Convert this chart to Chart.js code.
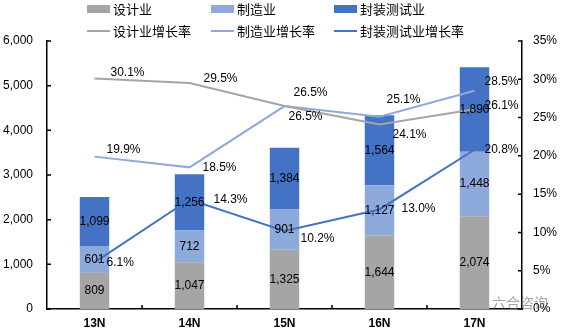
<!DOCTYPE html>
<html>
<head>
<meta charset="utf-8">
<script src="https://cdn.jsdelivr.net/npm/chart.js@4.4.1/dist/chart.umd.min.js"></script>
<style>
  html, body { margin: 0; padding: 0; background: #fff; }
  #wrap { position: relative; width: 561px; height: 332px; }
  #c { position: absolute; left: 0; top: 0; }
  .lg { position: absolute; font: 13px "Noto Sans CJK SC", sans-serif; color: #000; line-height: 16px; }
  .lg i { position: absolute; left: -26px; width: 23px; }
  .wm { position: absolute; left: 492px; top: 292px; font: 14px "Noto Sans CJK SC", sans-serif; color: rgba(90,90,90,0.55); }
</style>
</head>
<body>
<div id="wrap">
  <canvas id="c" width="561" height="332"></canvas>
  <div class="lg" style="left:113px;top:1px"><i style="top:4px;height:8px;background:#A5A5A5"></i>设计业</div>
  <div class="lg" style="left:237px;top:1px"><i style="top:4px;height:8px;background:#8EA9DB"></i>制造业</div>
  <div class="lg" style="left:360px;top:1px"><i style="top:4px;height:8px;background:#4472C4"></i>封装测试业</div>
  <div class="lg" style="left:113px;top:23px"><i style="top:7px;height:2px;background:#A5A5A5"></i>设计业增长率</div>
  <div class="lg" style="left:237px;top:23px"><i style="top:7px;height:2px;background:#8EA9DB"></i>制造业增长率</div>
  <div class="lg" style="left:360px;top:23px"><i style="top:7px;height:2px;background:#4472C4"></i>封装测试业增长率</div>
  <div class="wm">六合咨询</div>
</div>
<script>
// 数据
const years = ['13N', '14N', '15N', '16N', '17N'];
const designRev = [809, 1047, 1325, 1644, 2074];
const fabRev = [601, 712, 901, 1127, 1448];
const packRev = [1099, 1256, 1384, 1564, 1890];
const designGrowth = [30.1, 29.5, 26.5, 24.1, 26.1];
const fabGrowth = [19.9, 18.5, 26.5, 25.1, 28.5];
const packGrowth = [6.1, 14.3, 10.2, 13.0, 20.8];

// 折线标签相对数据点的偏移 (dx, dy)
const labelShift = {
  3: [[16, -6], [14, -4], [4, 11], [13, 10], [10, -3]],
  4: [[12, -7], [13, 0], [9, -13], [7, -17], [10, -9]],
  5: [[12, 0], [24, 0], [16, 8], [22, -1], [10, 0]]
};

const fmt = v => v.toLocaleString('en-US');

const labelPlugin = {
  id: 'labels',
  afterDatasetsDraw(chart) {
    const ctx = chart.ctx;
    ctx.save();
    ctx.fillStyle = '#000';
    ctx.font = '12px "Liberation Sans", Arial, sans-serif';
    ctx.textBaseline = 'middle';
    chart.data.datasets.forEach((ds, di) => {
      const meta = chart.getDatasetMeta(di);
      meta.data.forEach((el, i) => {
        if (ds.type === 'bar') {
          ctx.textAlign = 'center';
          ctx.fillText(fmt(ds.data[i]), el.x, (el.y + el.base) / 2);
        } else {
          const s = labelShift[di][i];
          ctx.textAlign = 'left';
          ctx.fillText(ds.data[i].toFixed(1) + '%', el.x + s[0], el.y + s[1]);
        }
      });
    });
    ctx.restore();
  }
};

// 坐标轴内侧刻度线
const tickPlugin = {
  id: 'innerTicks',
  afterDraw(chart) {
    const ctx = chart.ctx;
    const a = chart.chartArea;
    const y = chart.scales.y, y1 = chart.scales.y1, x = chart.scales.x;
    ctx.save();
    ctx.strokeStyle = '#000';
    ctx.lineWidth = 1.5;
    ctx.beginPath();
    y.ticks.forEach(t => {
      const p = y.getPixelForValue(t.value);
      ctx.moveTo(a.left, p); ctx.lineTo(a.left + 4, p);
    });
    y1.ticks.forEach(t => {
      const p = y1.getPixelForValue(t.value);
      ctx.moveTo(a.right, p); ctx.lineTo(a.right - 4, p);
    });
    for (let i = 1; i < years.length; i++) {
      const p = (x.getPixelForValue(i - 1) + x.getPixelForValue(i)) / 2;
      ctx.moveTo(p, a.bottom); ctx.lineTo(p, a.bottom - 4);
    }
    ctx.stroke();
    ctx.restore();
  }
};

const tickFont = { family: '"Liberation Sans", Arial, sans-serif', size: 12 };
const noGrid = { display: false, drawTicks: false, tickLength: 0 };

new Chart(document.getElementById('c'), {
  data: {
    labels: years,
    datasets: [
      { type: 'bar', label: '设计业', data: designRev, backgroundColor: '#A5A5A5', stack: 's', order: 2, yAxisID: 'y' },
      { type: 'bar', label: '制造业', data: fabRev, backgroundColor: '#8EA9DB', stack: 's', order: 2, yAxisID: 'y' },
      { type: 'bar', label: '封装测试业', data: packRev, backgroundColor: '#4472C4', stack: 's', order: 2, yAxisID: 'y' },
      { type: 'line', label: '设计业增长率', data: designGrowth, borderColor: '#A5A5A5', borderWidth: 2, pointRadius: 0, yAxisID: 'y1', order: 1 },
      { type: 'line', label: '制造业增长率', data: fabGrowth, borderColor: '#8EA9DB', borderWidth: 2, pointRadius: 0, yAxisID: 'y1', order: 1 },
      { type: 'line', label: '封装测试业增长率', data: packGrowth, borderColor: '#4472C4', borderWidth: 2, pointRadius: 0, yAxisID: 'y1', order: 1 }
    ]
  },
  options: {
    responsive: false,
    animation: false,
    barPercentage: 0.31,
    categoryPercentage: 1,
    layout: { padding: { top: 41, left: 0, right: 0, bottom: 0 } },
    plugins: { legend: { display: false }, tooltip: { enabled: false } },
    scales: {
      x: {
        stacked: true,
        grid: noGrid,
        border: { color: '#000', width: 1.5 },
        ticks: { color: '#000', font: { ...tickFont, weight: 'bold' }, padding: 7 },
        afterFit: s => { s.height = 23; }
      },
      y: {
        stacked: true,
        min: 0, max: 6000,
        grid: noGrid,
        border: { color: '#000', width: 1.5 },
        ticks: { stepSize: 1000, color: '#000', font: tickFont, padding: 14, callback: v => fmt(v) },
        afterFit: s => { s.width = 47; }
      },
      y1: {
        position: 'right',
        min: 0, max: 35,
        grid: noGrid,
        border: { color: '#000', width: 1.5 },
        ticks: { stepSize: 5, color: '#000', font: tickFont, padding: 11, callback: v => v + '%' },
        afterFit: s => { s.width = 39; }
      }
    }
  },
  plugins: [labelPlugin, tickPlugin]
});
</script>
</body>
</html>
